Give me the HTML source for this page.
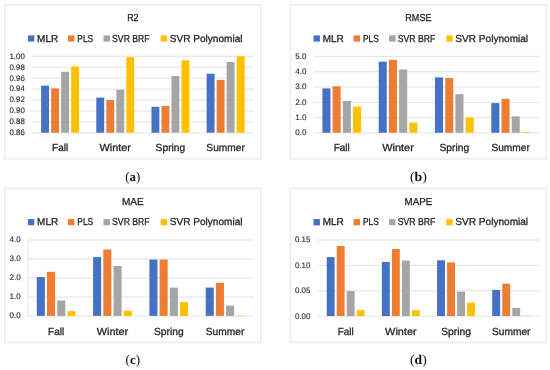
<!DOCTYPE html>
<html lang="en"><head><meta charset="utf-8"><title>Model comparison charts</title>
<style>html,body{margin:0;padding:0;background:#fff}svg{display:block}text{text-rendering:geometricPrecision;font-family:"Liberation Sans",Arial,sans-serif;fill:#262626;stroke:#262626;stroke-width:0.3}.yl{stroke-width:0.14;fill:#2e2e2e;stroke:#2e2e2e}.cap{font-family:"Liberation Serif","Times New Roman",serif;fill:#111;stroke:none}</style></head><body>
<svg width="550" height="370" viewBox="0 0 550 370">
<defs><filter id="soft" x="-5%" y="-5%" width="110%" height="110%"><feGaussianBlur stdDeviation="0.35"/></filter></defs>
<rect x="0" y="0" width="550" height="370" fill="#fff"/>
<g transform="translate(0,0)">
<rect x="4.8" y="4.7" width="256" height="154.1" fill="#fff" stroke="#EDEDED" stroke-width="1.6"/>
<text x="132.8" y="21.2" font-size="10.1" text-anchor="middle" textLength="11.3" lengthAdjust="spacingAndGlyphs">R2</text>
<rect x="27.9" y="35.4" width="6.4" height="6.2" fill="#4472C4"/>
<text x="37.1" y="41.7" font-size="10.1" textLength="21" lengthAdjust="spacingAndGlyphs">MLR</text>
<rect x="68" y="35.4" width="6.4" height="6.2" fill="#ED7D31"/>
<text x="77.35" y="41.7" font-size="10.1" textLength="15.75" lengthAdjust="spacingAndGlyphs">PLS</text>
<rect x="103.5" y="35.4" width="6.4" height="6.2" fill="#A5A5A5"/>
<text x="112.1" y="41.7" font-size="10.1" textLength="37.55" lengthAdjust="spacingAndGlyphs">SVR BRF</text>
<rect x="160.7" y="35.4" width="6.4" height="6.2" fill="#FFC000"/>
<text x="169.75" y="41.7" font-size="10.1" textLength="72.75" lengthAdjust="spacingAndGlyphs">SVR Polynomial</text>
<line x1="32" y1="132.9" x2="253.8" y2="132.9" stroke="#E3E3E3" stroke-width="1"/>
<text class="yl" x="24.8" y="135.25" font-size="8.0" text-anchor="end" textLength="15.4" lengthAdjust="spacingAndGlyphs">0.86</text>
<line x1="32" y1="121.96" x2="253.8" y2="121.96" stroke="#E3E3E3" stroke-width="1"/>
<text class="yl" x="24.8" y="124.31" font-size="8.0" text-anchor="end" textLength="15.4" lengthAdjust="spacingAndGlyphs">0.88</text>
<line x1="32" y1="111.01" x2="253.8" y2="111.01" stroke="#E3E3E3" stroke-width="1"/>
<text class="yl" x="24.8" y="113.36" font-size="8.0" text-anchor="end" textLength="15.4" lengthAdjust="spacingAndGlyphs">0.90</text>
<line x1="32" y1="100.07" x2="253.8" y2="100.07" stroke="#E3E3E3" stroke-width="1"/>
<text class="yl" x="24.8" y="102.42" font-size="8.0" text-anchor="end" textLength="15.4" lengthAdjust="spacingAndGlyphs">0.92</text>
<line x1="32" y1="89.13" x2="253.8" y2="89.13" stroke="#E3E3E3" stroke-width="1"/>
<text class="yl" x="24.8" y="91.48" font-size="8.0" text-anchor="end" textLength="15.4" lengthAdjust="spacingAndGlyphs">0.94</text>
<line x1="32" y1="78.19" x2="253.8" y2="78.19" stroke="#E3E3E3" stroke-width="1"/>
<text class="yl" x="24.8" y="80.54" font-size="8.0" text-anchor="end" textLength="15.4" lengthAdjust="spacingAndGlyphs">0.96</text>
<line x1="32" y1="67.24" x2="253.8" y2="67.24" stroke="#E3E3E3" stroke-width="1"/>
<text class="yl" x="24.8" y="69.59" font-size="8.0" text-anchor="end" textLength="15.4" lengthAdjust="spacingAndGlyphs">0.98</text>
<line x1="32" y1="56.3" x2="253.8" y2="56.3" stroke="#E3E3E3" stroke-width="1"/>
<text class="yl" x="24.8" y="58.65" font-size="8.0" text-anchor="end" textLength="15.4" lengthAdjust="spacingAndGlyphs">1.00</text>
<g filter="url(#soft)">
<rect x="41.13" y="85.65" width="7.88" height="47.05" fill="#4472C4"/>
<rect x="51.14" y="88.4" width="7.88" height="44.3" fill="#ED7D31"/>
<rect x="61.15" y="71.8" width="7.88" height="60.9" fill="#A5A5A5"/>
<rect x="71.16" y="66.5" width="7.88" height="66.2" fill="#FFC000"/>
<rect x="96.31" y="97.6" width="7.88" height="35.1" fill="#4472C4"/>
<rect x="106.32" y="100.1" width="7.88" height="32.6" fill="#ED7D31"/>
<rect x="116.33" y="89.8" width="7.88" height="42.9" fill="#A5A5A5"/>
<rect x="126.34" y="57.1" width="7.88" height="75.6" fill="#FFC000"/>
<rect x="151.48" y="106.8" width="7.88" height="25.9" fill="#4472C4"/>
<rect x="161.49" y="105.9" width="7.88" height="26.8" fill="#ED7D31"/>
<rect x="171.5" y="76" width="7.88" height="56.7" fill="#A5A5A5"/>
<rect x="181.51" y="60.3" width="7.88" height="72.4" fill="#FFC000"/>
<rect x="206.66" y="73.7" width="7.88" height="59" fill="#4472C4"/>
<rect x="216.67" y="79.9" width="7.88" height="52.8" fill="#ED7D31"/>
<rect x="226.68" y="62" width="7.88" height="70.7" fill="#A5A5A5"/>
<rect x="236.69" y="56.3" width="7.88" height="76.4" fill="#FFC000"/>
</g>
<text x="60.09" y="151.45" font-size="10.3" text-anchor="middle" textLength="16.1" lengthAdjust="spacingAndGlyphs">Fall</text>
<text x="115.26" y="151.45" font-size="10.3" text-anchor="middle" textLength="31.5" lengthAdjust="spacingAndGlyphs">Winter</text>
<text x="170.44" y="151.45" font-size="10.3" text-anchor="middle" textLength="29.7" lengthAdjust="spacingAndGlyphs">Spring</text>
<text x="225.61" y="151.45" font-size="10.3" text-anchor="middle" textLength="38.5" lengthAdjust="spacingAndGlyphs">Summer</text>
<text class="cap" x="132.8" y="180.8" font-size="13.2" text-anchor="middle" textLength="15" lengthAdjust="spacingAndGlyphs">(<tspan font-weight="bold">a</tspan>)</text>
</g>
<g transform="translate(285.6,0)">
<rect x="4.8" y="4.7" width="256" height="154.1" fill="#fff" stroke="#EDEDED" stroke-width="1.6"/>
<text x="132.8" y="21.2" font-size="10.1" text-anchor="middle" textLength="26.1" lengthAdjust="spacingAndGlyphs">RMSE</text>
<rect x="27.9" y="35.4" width="6.4" height="6.2" fill="#4472C4"/>
<text x="37.1" y="41.7" font-size="10.1" textLength="21" lengthAdjust="spacingAndGlyphs">MLR</text>
<rect x="68" y="35.4" width="6.4" height="6.2" fill="#ED7D31"/>
<text x="77.35" y="41.7" font-size="10.1" textLength="15.75" lengthAdjust="spacingAndGlyphs">PLS</text>
<rect x="103.5" y="35.4" width="6.4" height="6.2" fill="#A5A5A5"/>
<text x="112.1" y="41.7" font-size="10.1" textLength="37.55" lengthAdjust="spacingAndGlyphs">SVR BRF</text>
<rect x="160.7" y="35.4" width="6.4" height="6.2" fill="#FFC000"/>
<text x="169.75" y="41.7" font-size="10.1" textLength="72.75" lengthAdjust="spacingAndGlyphs">SVR Polynomial</text>
<line x1="28" y1="132.95" x2="253.8" y2="132.95" stroke="#E3E3E3" stroke-width="1"/>
<text class="yl" x="20.8" y="135.3" font-size="8.0" text-anchor="end" textLength="11.2" lengthAdjust="spacingAndGlyphs">0.0</text>
<line x1="28" y1="117.64" x2="253.8" y2="117.64" stroke="#E3E3E3" stroke-width="1"/>
<text class="yl" x="20.8" y="119.99" font-size="8.0" text-anchor="end" textLength="11.2" lengthAdjust="spacingAndGlyphs">1.0</text>
<line x1="28" y1="102.33" x2="253.8" y2="102.33" stroke="#E3E3E3" stroke-width="1"/>
<text class="yl" x="20.8" y="104.68" font-size="8.0" text-anchor="end" textLength="11.2" lengthAdjust="spacingAndGlyphs">2.0</text>
<line x1="28" y1="87.02" x2="253.8" y2="87.02" stroke="#E3E3E3" stroke-width="1"/>
<text class="yl" x="20.8" y="89.37" font-size="8.0" text-anchor="end" textLength="11.2" lengthAdjust="spacingAndGlyphs">3.0</text>
<line x1="28" y1="71.71" x2="253.8" y2="71.71" stroke="#E3E3E3" stroke-width="1"/>
<text class="yl" x="20.8" y="74.06" font-size="8.0" text-anchor="end" textLength="11.2" lengthAdjust="spacingAndGlyphs">4.0</text>
<line x1="28" y1="56.4" x2="253.8" y2="56.4" stroke="#E3E3E3" stroke-width="1"/>
<text class="yl" x="20.8" y="58.75" font-size="8.0" text-anchor="end" textLength="11.2" lengthAdjust="spacingAndGlyphs">5.0</text>
<g filter="url(#soft)">
<rect x="36.81" y="88.4" width="8.04" height="44.35" fill="#4472C4"/>
<rect x="47.02" y="86.3" width="8.04" height="46.45" fill="#ED7D31"/>
<rect x="57.24" y="100.8" width="8.04" height="31.95" fill="#A5A5A5"/>
<rect x="67.45" y="106.6" width="8.04" height="26.15" fill="#FFC000"/>
<rect x="93.11" y="61.7" width="8.04" height="71.05" fill="#4472C4"/>
<rect x="103.32" y="59.9" width="8.04" height="72.85" fill="#ED7D31"/>
<rect x="113.54" y="69.5" width="8.04" height="63.25" fill="#A5A5A5"/>
<rect x="123.75" y="122.6" width="8.04" height="10.15" fill="#FFC000"/>
<rect x="149.41" y="77.4" width="8.04" height="55.35" fill="#4472C4"/>
<rect x="159.62" y="78" width="8.04" height="54.75" fill="#ED7D31"/>
<rect x="169.84" y="94.1" width="8.04" height="38.65" fill="#A5A5A5"/>
<rect x="180.05" y="117.4" width="8.04" height="15.35" fill="#FFC000"/>
<rect x="205.71" y="103.1" width="8.04" height="29.65" fill="#4472C4"/>
<rect x="215.92" y="98.7" width="8.04" height="34.05" fill="#ED7D31"/>
<rect x="226.14" y="116.4" width="8.04" height="16.35" fill="#A5A5A5"/>
<rect x="236.35" y="131.9" width="8.04" height="0.85" fill="#FFC000"/>
</g>
<text x="56.15" y="151.45" font-size="10.3" text-anchor="middle" textLength="16.1" lengthAdjust="spacingAndGlyphs">Fall</text>
<text x="112.45" y="151.45" font-size="10.3" text-anchor="middle" textLength="31.5" lengthAdjust="spacingAndGlyphs">Winter</text>
<text x="168.75" y="151.45" font-size="10.3" text-anchor="middle" textLength="29.7" lengthAdjust="spacingAndGlyphs">Spring</text>
<text x="225.05" y="151.45" font-size="10.3" text-anchor="middle" textLength="38.5" lengthAdjust="spacingAndGlyphs">Summer</text>
<text class="cap" x="132.8" y="180.8" font-size="13.2" text-anchor="middle" textLength="17" lengthAdjust="spacingAndGlyphs">(<tspan font-weight="bold">b</tspan>)</text>
</g>
<g transform="translate(0,183.7)">
<rect x="4.8" y="4.7" width="256" height="154.1" fill="#fff" stroke="#EDEDED" stroke-width="1.6"/>
<text x="132.8" y="21.2" font-size="10.1" text-anchor="middle" textLength="21.7" lengthAdjust="spacingAndGlyphs">MAE</text>
<rect x="27.9" y="35.4" width="6.4" height="6.2" fill="#4472C4"/>
<text x="37.1" y="41.7" font-size="10.1" textLength="21" lengthAdjust="spacingAndGlyphs">MLR</text>
<rect x="68" y="35.4" width="6.4" height="6.2" fill="#ED7D31"/>
<text x="77.35" y="41.7" font-size="10.1" textLength="15.75" lengthAdjust="spacingAndGlyphs">PLS</text>
<rect x="103.5" y="35.4" width="6.4" height="6.2" fill="#A5A5A5"/>
<text x="112.1" y="41.7" font-size="10.1" textLength="37.55" lengthAdjust="spacingAndGlyphs">SVR BRF</text>
<rect x="160.7" y="35.4" width="6.4" height="6.2" fill="#FFC000"/>
<text x="169.75" y="41.7" font-size="10.1" textLength="72.75" lengthAdjust="spacingAndGlyphs">SVR Polynomial</text>
<line x1="28" y1="132.4" x2="253.8" y2="132.4" stroke="#E3E3E3" stroke-width="1"/>
<text class="yl" x="20.8" y="134.75" font-size="8.0" text-anchor="end" textLength="11.2" lengthAdjust="spacingAndGlyphs">0.0</text>
<line x1="28" y1="113.38" x2="253.8" y2="113.38" stroke="#E3E3E3" stroke-width="1"/>
<text class="yl" x="20.8" y="115.72" font-size="8.0" text-anchor="end" textLength="11.2" lengthAdjust="spacingAndGlyphs">1.0</text>
<line x1="28" y1="94.35" x2="253.8" y2="94.35" stroke="#E3E3E3" stroke-width="1"/>
<text class="yl" x="20.8" y="96.7" font-size="8.0" text-anchor="end" textLength="11.2" lengthAdjust="spacingAndGlyphs">2.0</text>
<line x1="28" y1="75.33" x2="253.8" y2="75.33" stroke="#E3E3E3" stroke-width="1"/>
<text class="yl" x="20.8" y="77.67" font-size="8.0" text-anchor="end" textLength="11.2" lengthAdjust="spacingAndGlyphs">3.0</text>
<line x1="28" y1="56.3" x2="253.8" y2="56.3" stroke="#E3E3E3" stroke-width="1"/>
<text class="yl" x="20.8" y="58.65" font-size="8.0" text-anchor="end" textLength="11.2" lengthAdjust="spacingAndGlyphs">4.0</text>
<line x1="28" y1="55.8" x2="28" y2="132.9" stroke="#E3E3E3" stroke-width="1"/>
<g filter="url(#soft)">
<rect x="36.81" y="93.4" width="8.04" height="38.8" fill="#4472C4"/>
<rect x="47.02" y="88.1" width="8.04" height="44.1" fill="#ED7D31"/>
<rect x="57.24" y="116.8" width="8.04" height="15.4" fill="#A5A5A5"/>
<rect x="67.45" y="127.4" width="8.04" height="4.8" fill="#FFC000"/>
<rect x="93.11" y="73.4" width="8.04" height="58.8" fill="#4472C4"/>
<rect x="103.32" y="65.8" width="8.04" height="66.4" fill="#ED7D31"/>
<rect x="113.54" y="82.3" width="8.04" height="49.9" fill="#A5A5A5"/>
<rect x="123.75" y="126.9" width="8.04" height="5.3" fill="#FFC000"/>
<rect x="149.41" y="75.9" width="8.04" height="56.3" fill="#4472C4"/>
<rect x="159.62" y="75.9" width="8.04" height="56.3" fill="#ED7D31"/>
<rect x="169.84" y="103.9" width="8.04" height="28.3" fill="#A5A5A5"/>
<rect x="180.05" y="118.4" width="8.04" height="13.8" fill="#FFC000"/>
<rect x="205.71" y="103.9" width="8.04" height="28.3" fill="#4472C4"/>
<rect x="215.92" y="99.1" width="8.04" height="33.1" fill="#ED7D31"/>
<rect x="226.14" y="121.9" width="8.04" height="10.3" fill="#A5A5A5"/>
<rect x="236.35" y="131.7" width="8.04" height="0.5" fill="#FFC000"/>
</g>
<text x="56.15" y="151.45" font-size="10.3" text-anchor="middle" textLength="16.1" lengthAdjust="spacingAndGlyphs">Fall</text>
<text x="112.45" y="151.45" font-size="10.3" text-anchor="middle" textLength="31.5" lengthAdjust="spacingAndGlyphs">Winter</text>
<text x="168.75" y="151.45" font-size="10.3" text-anchor="middle" textLength="29.7" lengthAdjust="spacingAndGlyphs">Spring</text>
<text x="225.05" y="151.45" font-size="10.3" text-anchor="middle" textLength="38.5" lengthAdjust="spacingAndGlyphs">Summer</text>
<text class="cap" x="132.8" y="180.8" font-size="13.2" text-anchor="middle" textLength="14.5" lengthAdjust="spacingAndGlyphs">(<tspan font-weight="bold">c</tspan>)</text>
</g>
<g transform="translate(285.6,183.7)">
<rect x="4.8" y="4.7" width="256" height="154.1" fill="#fff" stroke="#EDEDED" stroke-width="1.6"/>
<text x="132.8" y="21.2" font-size="10.1" text-anchor="middle" textLength="27.9" lengthAdjust="spacingAndGlyphs">MAPE</text>
<rect x="27.9" y="35.4" width="6.4" height="6.2" fill="#4472C4"/>
<text x="37.1" y="41.7" font-size="10.1" textLength="21" lengthAdjust="spacingAndGlyphs">MLR</text>
<rect x="68" y="35.4" width="6.4" height="6.2" fill="#ED7D31"/>
<text x="77.35" y="41.7" font-size="10.1" textLength="15.75" lengthAdjust="spacingAndGlyphs">PLS</text>
<rect x="103.5" y="35.4" width="6.4" height="6.2" fill="#A5A5A5"/>
<text x="112.1" y="41.7" font-size="10.1" textLength="37.55" lengthAdjust="spacingAndGlyphs">SVR BRF</text>
<rect x="160.7" y="35.4" width="6.4" height="6.2" fill="#FFC000"/>
<text x="169.75" y="41.7" font-size="10.1" textLength="72.75" lengthAdjust="spacingAndGlyphs">SVR Polynomial</text>
<line x1="32" y1="132.5" x2="253.8" y2="132.5" stroke="#E3E3E3" stroke-width="1"/>
<text class="yl" x="24.8" y="134.85" font-size="8.0" text-anchor="end" textLength="15.4" lengthAdjust="spacingAndGlyphs">0.00</text>
<line x1="32" y1="107.1" x2="253.8" y2="107.1" stroke="#E3E3E3" stroke-width="1"/>
<text class="yl" x="24.8" y="109.45" font-size="8.0" text-anchor="end" textLength="15.4" lengthAdjust="spacingAndGlyphs">0.05</text>
<line x1="32" y1="81.7" x2="253.8" y2="81.7" stroke="#E3E3E3" stroke-width="1"/>
<text class="yl" x="24.8" y="84.05" font-size="8.0" text-anchor="end" textLength="15.4" lengthAdjust="spacingAndGlyphs">0.10</text>
<line x1="32" y1="56.3" x2="253.8" y2="56.3" stroke="#E3E3E3" stroke-width="1"/>
<text class="yl" x="24.8" y="58.65" font-size="8.0" text-anchor="end" textLength="15.4" lengthAdjust="spacingAndGlyphs">0.15</text>
<g filter="url(#soft)">
<rect x="41.13" y="73.4" width="7.88" height="58.9" fill="#4472C4"/>
<rect x="51.14" y="62.3" width="7.88" height="70" fill="#ED7D31"/>
<rect x="61.15" y="107.4" width="7.88" height="24.9" fill="#A5A5A5"/>
<rect x="71.16" y="126.5" width="7.88" height="5.8" fill="#FFC000"/>
<rect x="96.31" y="78.2" width="7.88" height="54.1" fill="#4472C4"/>
<rect x="106.32" y="65.3" width="7.88" height="67" fill="#ED7D31"/>
<rect x="116.33" y="76.8" width="7.88" height="55.5" fill="#A5A5A5"/>
<rect x="126.34" y="126.5" width="7.88" height="5.8" fill="#FFC000"/>
<rect x="151.48" y="76.6" width="7.88" height="55.7" fill="#4472C4"/>
<rect x="161.49" y="78.7" width="7.88" height="53.6" fill="#ED7D31"/>
<rect x="171.5" y="107.9" width="7.88" height="24.4" fill="#A5A5A5"/>
<rect x="181.51" y="118.9" width="7.88" height="13.4" fill="#FFC000"/>
<rect x="206.66" y="106.2" width="7.88" height="26.1" fill="#4472C4"/>
<rect x="216.67" y="100" width="7.88" height="32.3" fill="#ED7D31"/>
<rect x="226.68" y="124.2" width="7.88" height="8.1" fill="#A5A5A5"/>
<rect x="236.69" y="132" width="7.88" height="0.3" fill="#FFC000"/>
</g>
<text x="60.09" y="151.45" font-size="10.3" text-anchor="middle" textLength="16.1" lengthAdjust="spacingAndGlyphs">Fall</text>
<text x="115.26" y="151.45" font-size="10.3" text-anchor="middle" textLength="31.5" lengthAdjust="spacingAndGlyphs">Winter</text>
<text x="170.44" y="151.45" font-size="10.3" text-anchor="middle" textLength="29.7" lengthAdjust="spacingAndGlyphs">Spring</text>
<text x="225.61" y="151.45" font-size="10.3" text-anchor="middle" textLength="38.5" lengthAdjust="spacingAndGlyphs">Summer</text>
<text class="cap" x="132.8" y="180.8" font-size="13.2" text-anchor="middle" textLength="16.7" lengthAdjust="spacingAndGlyphs">(<tspan font-weight="bold">d</tspan>)</text>
</g>
</svg></body></html>
